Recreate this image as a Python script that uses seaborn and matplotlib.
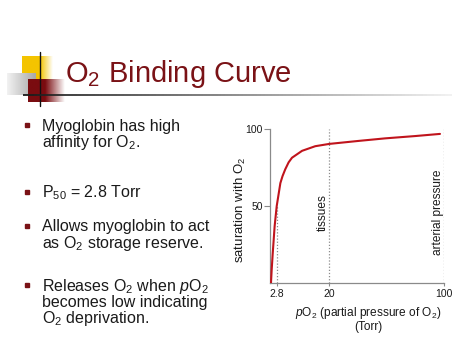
import numpy as np
import matplotlib
matplotlib.use("Agg")
import matplotlib.pyplot as plt
from matplotlib.patches import Rectangle
import seaborn as sns

### data
po2 = [0.3, 0.6, 1.05, 1.9, 2.8, 4.0, 4.7, 5.6, 6.7, 7.8, 11.1, 15.4, 20, 40, 59, 80, 97.4]
saturation = [0, 8.5, 19, 37, 50, 65, 69.5, 74, 78.5, 81.5, 86, 89, 90.5, 92.4, 94.1, 95.6, 97]

x_ticks = [2.8, 20, 100]
x_tick_labels = ["2.8", "20", "100"]
y_ticks = [50, 100]
y_tick_labels = ["50", "100"]

# vertical markers: (pO2, top of dotted line, label)
markers = [(2.8, 50, ""), (20, 100, "tissues"), (100, 100, "arterial pressure")]

title = "O$_2$ Binding Curve"
bullets = [
    ["Myoglobin has high", "affinity for O$_2$."],
    ["P$_{50}$ = 2.8 Torr"],
    ["Allows myoglobin to act", "as O$_2$ storage reserve."],
    ["Releases O$_2$ when $\\mathit{p}$O$_2$", "becomes low indicating", "O$_2$ deprivation."],
]

# the drawn x axis is stretched by hand: knots of the schematic scale
scale_data = [-100, 0, 2.8, 20, 100, 200]
scale_px = [-228.6, 0, 6.4, 59, 173.4, 316.4]


def fwd(x):
    return np.interp(x, scale_data, scale_px)


def inv(p):
    return np.interp(p, scale_px, scale_data)


### style
sns.set_theme(style="white")
plt.rcParams["font.family"] = ["Liberation Sans", "DejaVu Sans"]
plt.rcParams["mathtext.fontset"] = "custom"
plt.rcParams["mathtext.rm"] = "Liberation Sans"
plt.rcParams["mathtext.it"] = "Liberation Sans:italic"
plt.rcParams["mathtext.default"] = "regular"

W, H = 474, 355
fig = plt.figure(figsize=(W / 100, H / 100), dpi=100)
fig.patch.set_facecolor("white")

dark_red = "#7a1216"
text_col = "#1a1a1a"

### slide decoration (pixel coords)
deco = fig.add_axes([0, 0, 1, 1])
deco.set_xlim(0, W)
deco.set_ylim(H, 0)
deco.axis("off")


def grad_rect(x0, x1, y0, y1, c_left, c_right, z):
    c_left = np.array(matplotlib.colors.to_rgb(c_left))
    c_right = np.array(matplotlib.colors.to_rgb(c_right))
    t = np.linspace(0, 1, 64)[None, :, None]
    img = c_left + (c_right - c_left) * t
    deco.imshow(img, extent=(x0, x1, y1, y0), aspect="auto", zorder=z, interpolation="bilinear")


grad_rect(22, 40, 56, 80, "#f4c400", "#f4c400", 1)
grad_rect(40, 53, 56, 80, "#f4c400", "#ffffff", 1)
grad_rect(7, 36, 73, 95, "#f2f2f2", "#a8a8a8", 2)
grad_rect(28, 45, 79, 102, "#7a0c10", "#7a0c10", 3)
grad_rect(45, 65, 79, 102, "#7a0c10", "#ffffff", 3)
deco.plot([40, 40], [52, 106], color="#111111", lw=1.0, zorder=5)
xs = np.linspace(23, 452, 120)
for i in range(len(xs) - 1):
    g = min(0.1 + 0.85 * i / (len(xs) - 1), 0.95)
    deco.plot(xs[i:i + 2], [94.8, 94.8], color=(g, g, g), lw=1.3, zorder=5,
              solid_capstyle="butt")
deco.set_xlim(0, W)
deco.set_ylim(H, 0)

fig.text(65 / W, 1 - 82 / H, title, color=dark_red, fontsize=21,
         ha="left", va="baseline")

### bullet list
baselines = [[130.7, 147.2], [197.5], [231.5, 247.8], [290.5, 307, 323.5]]
for lines, ys in zip(bullets, baselines):
    deco.add_patch(Rectangle((25.2, ys[0] - 7.7), 4, 4, color=dark_red, zorder=5))
    for line, y in zip(lines, ys):
        fig.text(41.7 / W, 1 - y / H, line, fontsize=11.5, color=text_col,
                 ha="left", va="baseline")

### chart
ax = fig.add_axes([270.3 / W, 1 - 283 / H, (443.7 - 270.3) / W, (283 - 129.3) / H])
ax.set_facecolor("none")

for xm, top, label in markers:
    ax.plot([xm, xm], [0, top], color="#8c8c8c", lw=0.9, ls=(0, (1, 1.5)), zorder=1)
    if label:
        ax.text(xm, 46, label, rotation=90, ha="right", va="center",
                fontsize=8.6, color=text_col)

sns.lineplot(x=po2, y=saturation, ax=ax, color="#c0141c", linewidth=1.5, zorder=3)

ax.set_xscale("function", functions=(fwd, inv))
ax.set_xlim(0, 100)
ax.set_ylim(0, 100)
ax.set_xticks(x_ticks)
ax.set_xticklabels(x_tick_labels)
ax.set_yticks(y_ticks)
ax.set_yticklabels(y_tick_labels)
ax.minorticks_off()

for side in ["top", "right"]:
    ax.spines[side].set_visible(False)
for side in ["left", "bottom"]:
    ax.spines[side].set_color("#8a8a8a")
    ax.spines[side].set_linewidth(0.9)

ax.tick_params(axis="y", direction="out", length=4, width=0.8, color="#8a8a8a",
               labelsize=7.5, labelcolor=text_col, pad=1.5, left=True)
ax.tick_params(axis="x", direction="out", length=2, width=0.8, color="#8a8a8a",
               labelsize=7.5, labelcolor=text_col, pad=2, bottom=True)

ax.set_ylabel("saturation with O$_2$", fontsize=9.5, color=text_col)
ax.yaxis.set_label_coords(-0.13, 0.475)
ax.set_xlabel("$\\mathit{p}$O$_2$ (partial pressure of O$_2$)\n(Torr)",
              fontsize=8.6, color=text_col, linespacing=1.1)
ax.xaxis.set_label_coords(0.563, -0.14)

fig.savefig("out.png", dpi=100, facecolor="white")
